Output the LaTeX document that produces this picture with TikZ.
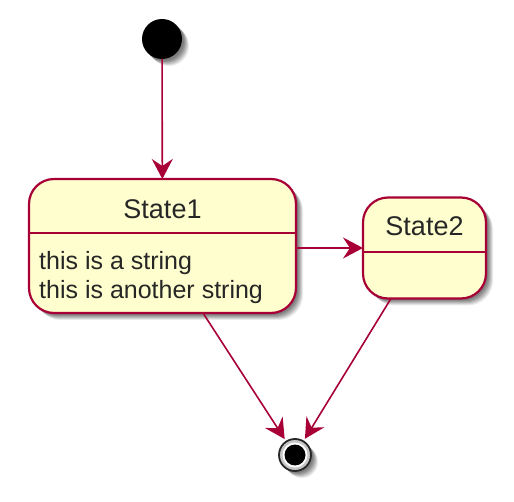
\documentclass[tikz,border=0pt]{standalone}
\usepackage{fontspec}
\setmainfont{Liberation Sans}
\usetikzlibrary{shadows,arrows.meta,calc}
\definecolor{pufill}{HTML}{FEFECE}
\definecolor{puline}{HTML}{A80036}
\tikzset{
  shad/.style={
    drop shadow={shadow xshift=2pt,shadow yshift=-2pt,opacity=0.12,fill=black},
    drop shadow={shadow xshift=3pt,shadow yshift=-3pt,opacity=0.12,fill=black},
    drop shadow={shadow xshift=4pt,shadow yshift=-4pt,opacity=0.12,fill=black},
    drop shadow={shadow xshift=5pt,shadow yshift=-5pt,opacity=0.11,fill=black},
    drop shadow={shadow xshift=6pt,shadow yshift=-6pt,opacity=0.1,fill=black},
    drop shadow={shadow xshift=7pt,shadow yshift=-7pt,opacity=0.08,fill=black}},
  statebox/.style={draw=puline,fill=pufill,line width=2.2pt,rounded corners=25pt,inner sep=0pt,outer sep=0pt,shad},
  conn/.style={draw=puline,line width=1.6pt,-{Stealth[length=20pt,width=21pt,inset=7pt]}},
  titletext/.style={font=\fontsize{27}{32}\selectfont,text=black!85,anchor=base,inner sep=0pt},
  bodytext/.style={font=\fontsize{25}{29}\selectfont,text=black!85,anchor=base west,inner sep=0pt},
  divider/.style={draw=puline,line width=2.2pt},
}
\begin{document}
\begin{tikzpicture}[x=1pt,y=-1pt]
\useasboundingbox (0,0) rectangle (514,502);
% start
\node[circle,fill=black,minimum size=40pt,inner sep=0pt,outer sep=0pt,shad] (start) at (162,39) {};
% State1
\node[statebox,minimum width=267pt,minimum height=134pt] (s1) at (162.5,246) {};
\node[titletext] (s1t) at ($(s1.north)+(0,40)$) {State1};
\draw[divider] ($(s1.north west)+(0,54)$) -- ($(s1.north east)+(0,54)$);
\node[bodytext] (s1a) at (39,270) {this is a string};
\node[bodytext] (s1b) at (39,299) {this is another string};
% State2
\node[statebox,minimum width=123pt,minimum height=101pt] (s2) at (424.5,248) {};
\node[titletext] (s2t) at ($(s2.north)+(0,38)$) {State2};
\draw[divider] ($(s2.north west)+(0,54.5)$) -- ($(s2.north east)+(0,54.5)$);
% end
\node[circle,draw=black!85,line width=1.8pt,fill=gray!45,minimum size=32pt,inner sep=0pt,outer sep=3pt,shad] (final) at (295,455) {};
\fill[white] (final.center) circle (12.5pt);
\fill[black] (final.center) circle (10.5pt);
% connectors
\draw[conn] (start) -- (s1);
\draw[conn] (s2.west -| s1.east) -- (s2.west);
\draw[conn] ([xshift=40.5pt]s1.south) -- (final);
\draw[conn] ([xshift=-33.5pt]s2.south) -- (final);
\end{tikzpicture}
\end{document}
